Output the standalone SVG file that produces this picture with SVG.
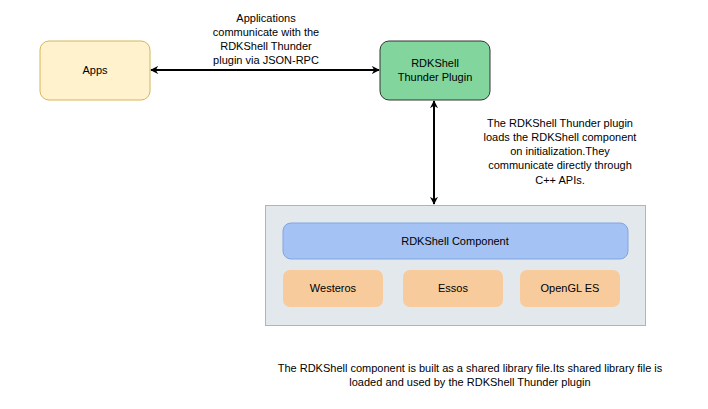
<svg xmlns="http://www.w3.org/2000/svg" width="708" height="409" viewBox="0 0 708 409">
<style>
text{font-family:"Liberation Sans",Arial,sans-serif;font-size:11px;fill:#000;text-anchor:middle}
.c{stroke:#000;stroke-width:2;fill:none}
</style>
<defs>
<marker id="a" viewBox="0 0 10 10" refX="9" refY="5" markerWidth="4" markerHeight="4" orient="auto-start-reverse"><path d="M0,0L10,5L0,10L3,5z" fill="#000"/></marker>
</defs>
<rect width="708" height="409" fill="#fff"/>
<g id="apps"><rect x="40" y="41" width="110" height="59" rx="9" fill="#fff2cc" stroke="#d6b656"/><text x="95" y="74">Apps</text></g>
<g id="plugin"><rect x="380" y="41" width="110" height="59" rx="9" fill="#82d59c" stroke="#333"/><text x="435" y="67">RDKShell</text><text x="435" y="81">Thunder Plugin</text></g>
<g id="container"><rect x="265.5" y="205.5" width="380" height="120" fill="#e3e8ed" stroke="#99b6e6"/></g>
<g id="component"><rect x="283" y="223" width="345" height="36" rx="8" fill="#a4c2f4" stroke="#7ea6e0"/><text x="455" y="245">RDKShell Component</text></g>
<g id="westeros"><rect x="283" y="270" width="100" height="37" rx="7" fill="#f8cb9c"/><text x="333" y="292">Westeros</text></g>
<g id="essos"><rect x="403" y="270" width="100" height="37" rx="7" fill="#f8cb9c"/><text x="453" y="292">Essos</text></g>
<g id="opengl"><rect x="520" y="270" width="100" height="37" rx="7" fill="#f8cb9c"/><text x="570" y="292">OpenGL ES</text></g>
<g id="connectors">
<line class="c" x1="151" y1="70" x2="379" y2="70" marker-start="url(#a)" marker-end="url(#a)"/>
<line class="c" x1="434" y1="101" x2="434" y2="204" marker-start="url(#a)" marker-end="url(#a)"/>
</g>
<g id="labels">
<text x="266" y="22">Applications</text><text x="266" y="36">communicate with the</text><text x="266" y="50">RDKShell Thunder</text><text x="266" y="64">plugin via JSON-RPC</text>
<text x="560" y="127">The RDKShell Thunder plugin</text><text x="560" y="141">loads the RDKShell component</text><text x="560" y="155">on initialization.They</text><text x="560" y="169">communicate directly through</text><text x="560" y="184">C++ APIs.</text>
<text x="470" y="372">The RDKShell component is built as a shared library file.Its shared library file is</text><text x="470" y="386">loaded and used by the RDKShell Thunder plugin</text>
</g>
</svg>
